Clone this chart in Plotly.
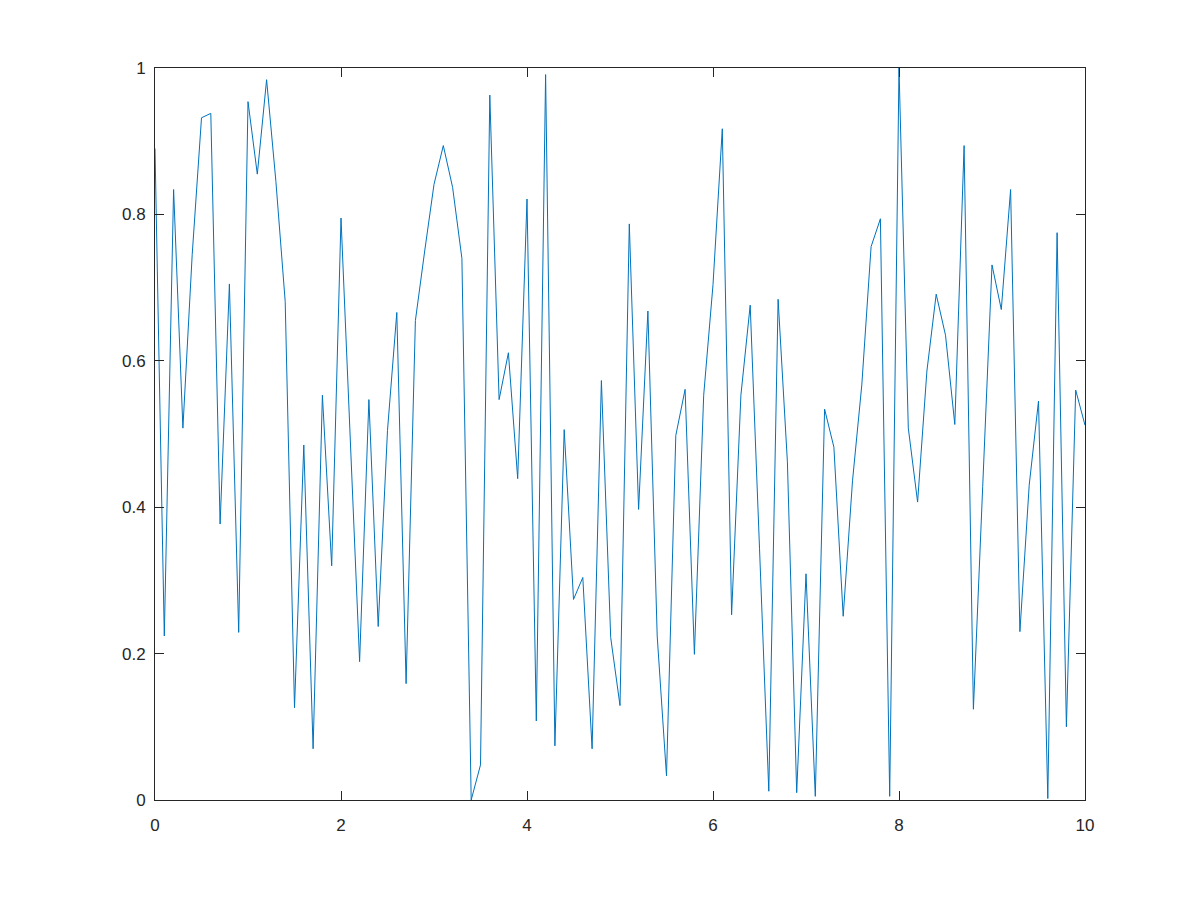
import plotly.graph_objects as go

# sample positions 0, 0.1, ..., 10
x = [i / 10 for i in range(101)]

# values
y = [
    0.890, 0.224, 0.834, 0.508, 0.745, 0.932, 0.938, 0.377, 0.705, 0.229,
    0.954, 0.855, 0.984, 0.845, 0.681, 0.126, 0.485, 0.070, 0.553, 0.320,
    0.795, 0.480, 0.189, 0.547, 0.237, 0.505, 0.666, 0.159, 0.655, 0.750,
    0.841, 0.894, 0.837, 0.740, 0.000, 0.048, 0.963, 0.547, 0.611, 0.439,
    0.821, 0.108, 0.991, 0.074, 0.506, 0.274, 0.304, 0.070, 0.573, 0.222,
    0.129, 0.787, 0.397, 0.668, 0.224, 0.033, 0.498, 0.561, 0.199, 0.553,
    0.704, 0.917, 0.253, 0.553, 0.676, 0.344, 0.012, 0.684, 0.462, 0.010,
    0.309, 0.005, 0.534, 0.482, 0.251, 0.436, 0.567, 0.756, 0.794, 0.005,
    1.000, 0.508, 0.407, 0.586, 0.691, 0.635, 0.513, 0.894, 0.124, 0.428,
    0.731, 0.670, 0.834, 0.230, 0.430, 0.545, 0.002, 0.775, 0.100, 0.560,
    0.512,
]

x_ticks = [0, 2, 4, 6, 8, 10]
y_ticks = [0, 0.2, 0.4, 0.6, 0.8, 1]

fig = go.Figure()
fig.add_trace(go.Scatter(x=x, y=y, mode='lines',
                         line=dict(color='#0072BD', width=1)))

axis_style = dict(showgrid=False, zeroline=False, showline=True, mirror='ticks',
                  linecolor='#262626', linewidth=1, ticks='inside', ticklen=9,
                  tickcolor='#262626', tickfont=dict(family='Liberation Sans', size=17, color='#262626'))

fig.update_xaxes(range=[0, 10], tickvals=x_ticks, ticktext=[str(v) for v in x_ticks],
                 ticklabelstandoff=10, **axis_style)
fig.update_yaxes(range=[0, 1], tickvals=y_ticks, ticktext=[str(v) for v in y_ticks],
                 ticklabelstandoff=5, **axis_style)

# page body adds an 8px margin, so the plot area is shifted back by that much
fig.update_layout(width=1200, height=900, showlegend=False,
                  paper_bgcolor='white', plot_bgcolor='white',
                  margin=dict(l=147, r=123, t=60, b=108))

fig.write_html("out.html")
